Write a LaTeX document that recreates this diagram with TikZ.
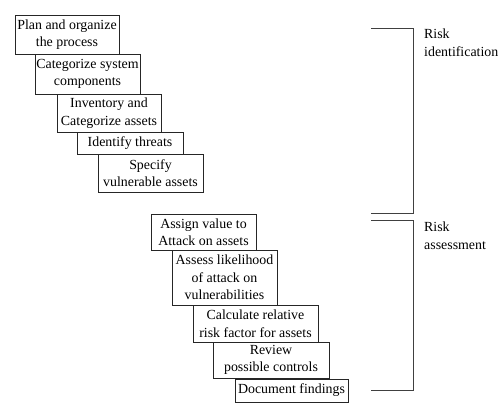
\documentclass[tikz,border=0pt]{standalone}
\usepackage{fontspec}
\setmainfont{Liberation Serif}
\begin{document}
\begin{tikzpicture}[x=1pt,y=-1pt,
  stepbox/.style={draw=black!85, line width=0.9pt, fill=white, align=center, inner sep=0pt,
     font=\fontsize{13.9}{17.5}\selectfont},
  brk/.style={draw=black!75, line width=0.9pt},
  lbl/.style={anchor=north west, align=left, inner sep=0pt, font=\fontsize{13.9}{18}\selectfont}]
\useasboundingbox (0,0) rectangle (499,407);
\node[stepbox, minimum width=104pt, minimum height=39pt] (b1) at (67,34.5) {Plan and organize\\the process};
\node[stepbox, minimum width=105pt, minimum height=40pt] (b2) at (87.5,74) {Categorize system\\components};
\node[stepbox, minimum width=104pt, minimum height=38pt] (b3) at (109,113) {Inventory and\\Categorize assets};
\node[stepbox, minimum width=106pt, minimum height=22pt] (b4) at (130,143) {Identify threats};
\node[stepbox, minimum width=105pt, minimum height=38pt] (b5) at (150.5,173) {Specify\\vulnerable assets};
\node[stepbox, minimum width=105pt, minimum height=36pt] (b6) at (203.5,232) {Assign value to\\Attack on assets};
\node[stepbox, minimum width=105pt, minimum height=55pt] (b7) at (224.5,277.5) {Assess likelihood\\of attack on\\vulnerabilities};
\node[stepbox, minimum width=125pt, minimum height=37pt] (b8) at (255.5,323.5) {Calculate relative\\risk factor for assets};
\node[stepbox, minimum width=116pt, minimum height=36pt] (b9) at (271,360) {Review\\possible controls};
\node[stepbox, minimum width=113pt, minimum height=23pt] (b10) at (291.5,390.5) {Document findings};
\coordinate (r1a) at (371,28);
\coordinate (r1b) at (413,28);
\coordinate (r1c) at (413,213);
\coordinate (r1d) at (371,213);
\coordinate (r2a) at (371,220);
\coordinate (r2b) at (413,220);
\coordinate (r2c) at (413,390);
\coordinate (r2d) at (371,390);
\draw[brk] (r1a) -- (r1b) -- (r1c) -- (r1d);
\draw[brk] (r2a) -- (r2b) -- (r2c) -- (r2d);
\node[lbl] (l1) at (424,29) {Risk\\identification};
\node[lbl] (l2) at (424,222) {Risk\\assessment};
\end{tikzpicture}
\end{document}
